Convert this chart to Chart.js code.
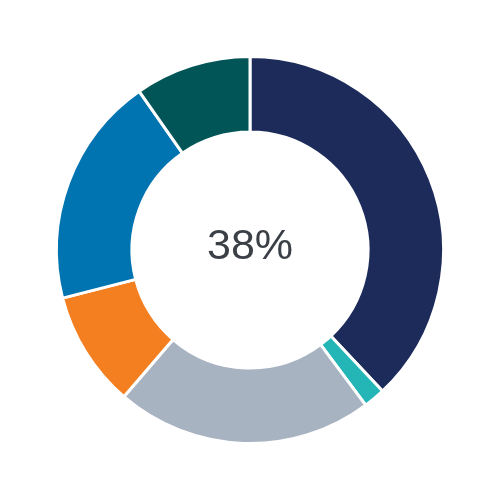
<!DOCTYPE html>
<html>
<head>
<meta charset="utf-8">
<script src="https://cdn.jsdelivr.net/npm/chart.js@4/dist/chart.umd.min.js"></script>
<style>
  html, body { margin: 0; padding: 0; background: #fff; }
  #wrap { width: 500px; height: 500px; }
</style>
</head>
<body>
<div id="wrap"><canvas id="donutChart"></canvas></div>
<script>
// segment values, clockwise from the top
const labels = ['A', 'B', 'C', 'D', 'E', 'F'];
const values = [38, 1.8, 21.5, 9.7, 19.3, 9.7];
const colors = ['#1c2b5a', '#24b6b6', '#a8b3c2', '#f37f21', '#0073b1', '#015556'];
const centerText = '38%';

// text in the hole
const centerLabel = {
    id: 'centerLabel',
    afterDraw(chart) {
        const ctx = chart.ctx;
        const meta = chart.getDatasetMeta(0).data[0];
        ctx.save();
        ctx.font = '43px "Liberation Sans", Arial, sans-serif';
        ctx.fillStyle = '#3b4047';
        ctx.textAlign = 'center';
        ctx.textBaseline = 'middle';
        ctx.fillText(centerText, meta.x, meta.y - 3);
        ctx.restore();
    }
};

const donutChart = new Chart(document.getElementById('donutChart'), {
    type: 'doughnut',
    data: {
        labels: labels,
        datasets: [{
            data: values,
            backgroundColor: colors,
            borderColor: '#ffffff',
            borderWidth: 3
        }]
    },
    options: {
        responsive: true,
        maintainAspectRatio: false,
        animation: false,
        cutout: '61%',
        layout: { padding: 55 },
        plugins: {
            legend: { display: false },
            tooltip: { enabled: false }
        }
    },
    plugins: [centerLabel]
});
</script>
</body>
</html>
